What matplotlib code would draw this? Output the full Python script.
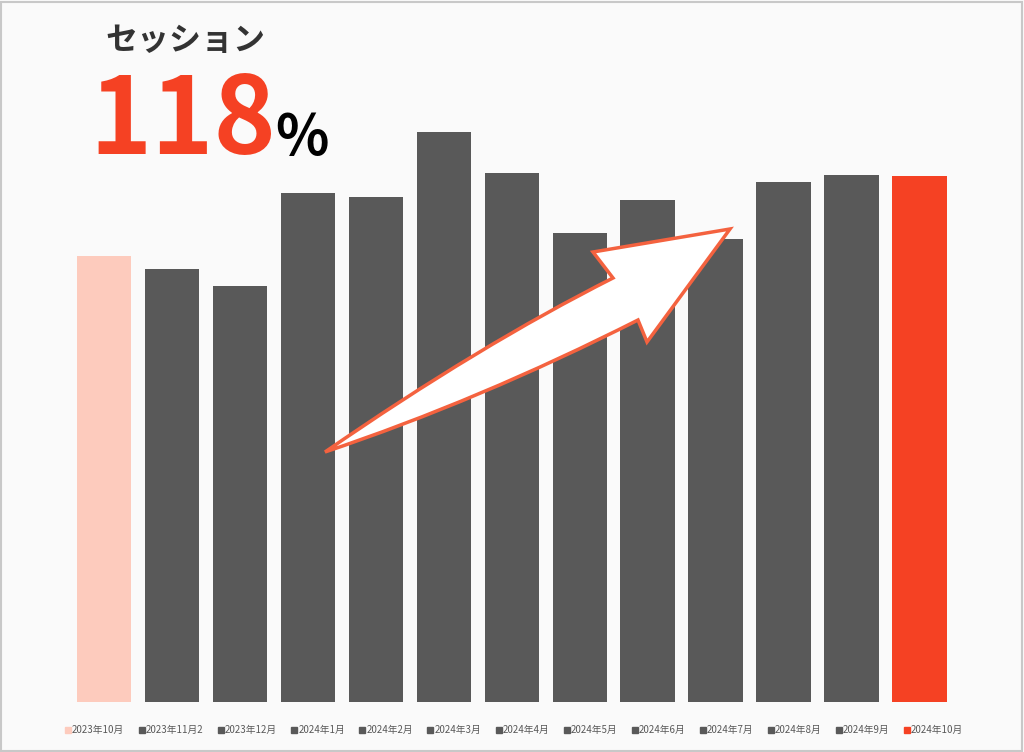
import matplotlib.pyplot as plt
from matplotlib.patches import PathPatch, Rectangle
from matplotlib.path import Path
from matplotlib.lines import Line2D

plt.rcParams['font.family'] = ['Noto Sans CJK JP', 'DejaVu Sans']

months = ['2023年10月', '2023年11月2', '2023年12月', '2024年1月', '2024年2月',
          '2024年3月', '2024年4月', '2024年5月', '2024年6月', '2024年7月',
          '2024年8月', '2024年9月', '2024年10月']
sessions = [446, 433, 416, 509, 505, 570, 529, 469, 502, 463, 520, 527, 526]

gray = '#595959'
red = '#f54123'
pink = '#fdcbbd'
colors = [pink] + [gray] * 11 + [red]

W, H = 1024, 752
fig = plt.figure(figsize=(W / 100, H / 100), dpi=100)
fig.patch.set_facecolor('#fafafa')
fig.patches.append(Rectangle((0.001, 0.001), 0.997, 0.997, transform=fig.transFigure,
                             fill=False, edgecolor='#c8c8c8', linewidth=1.5))

ax = fig.add_axes([70 / W, 1 - 702 / H, (953.5 - 70) / W, (702 - 40) / H])
ax.set_facecolor('#fafafa')
x = list(range(len(months)))
ax.bar(x, sessions, width=0.8, color=colors)
ax.set_xlim(-0.5, len(months) - 0.5)
ax.set_ylim(0, 662)
ax.axis('off')

# legend
handles = [Line2D([], [], marker='s', linestyle='none', markersize=4,
                  markerfacecolor=c, markeredgecolor=c) for c in colors]
fig.legend(handles, months, loc='center', bbox_to_anchor=(514 / W, 1 - 730 / H),
           ncol=len(months), frameon=False, fontsize=7, labelcolor=gray,
           handletextpad=0.05, columnspacing=1.45, handlelength=0.7)

# title block
fig.text(105 / W, 1 - 41 / H, 'セッション', fontsize=23, fontweight='bold',
         color='#333333', va='center', ha='left')
fig.text(89 / W, 1 - 154 / H, '118', fontsize=76, fontweight='bold',
         color=red, va='baseline', ha='left')
fig.text(275 / W, 1 - 154 / H, '%', fontsize=40, fontweight='bold',
         color='black', va='baseline', ha='left')

# curved arrow (decoration), in pixel coords converted to figure fraction
def p(px, py):
    return (px / W, 1 - py / H)

verts = [p(325, 452),
         p(480, 345), p(613, 278),
         p(593, 252),
         p(730, 229),
         p(647, 342),
         p(638, 320),
         p(480, 400), p(325, 452),
         p(325, 452)]
codes = [Path.MOVETO,
         Path.CURVE3, Path.CURVE3,
         Path.LINETO,
         Path.LINETO,
         Path.LINETO,
         Path.LINETO,
         Path.CURVE3, Path.CURVE3,
         Path.CLOSEPOLY]
arrow = PathPatch(Path(verts, codes), transform=fig.transFigure,
                  facecolor='white', edgecolor='#f4623f', linewidth=2.5,
                  joinstyle='miter')
fig.patches.append(arrow)

fig.savefig('out.png', dpi=100, facecolor=fig.get_facecolor())
